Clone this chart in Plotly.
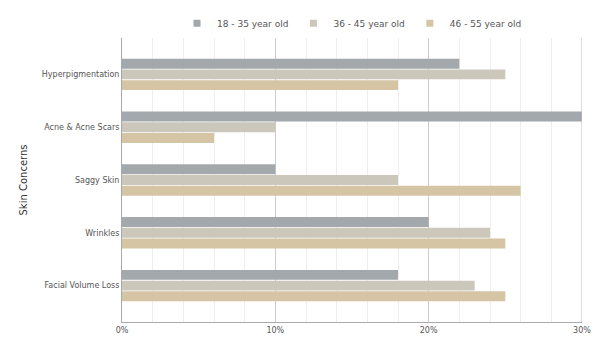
import plotly.graph_objects as go

categories = ["Hyperpigmentation", "Acne & Acne Scars", "Saggy Skin", "Wrinkles", "Facial Volume Loss"]
series_names = ["18 - 35 year old", "36 - 45 year old", "46 - 55 year old"]
age_18_35 = [22, 30, 10, 20, 18]
age_36_45 = [25, 10, 18, 24, 23]
age_46_55 = [18, 6, 26, 25, 25]
colors = ["#a2a8ab", "#cbc8bb", "#d6c5a4"]

fig = go.Figure()
for name, vals, c in zip(series_names, [age_18_35, age_36_45, age_46_55], colors):
    fig.add_trace(go.Bar(y=categories, x=vals, name=name, orientation="h", showlegend=False,
                         marker=dict(color=c, line=dict(width=0))))
for name, c in zip(series_names, colors):
    fig.add_trace(go.Scatter(x=[None], y=[None], mode="markers", name=name,
                             marker=dict(symbol="square", size=7, color=c)))

fig.update_layout(
    width=600, height=351,
    margin=dict(l=122, r=18, t=38, b=29, autoexpand=False),
    paper_bgcolor="white", plot_bgcolor="white",
    barmode="group", bargap=0.39, bargroupgap=0.08,
    font=dict(family="DejaVu Sans", size=9, color="#555"),
    legend=dict(orientation="h", x=0.5, xanchor="center", y=0.975, yref="container", yanchor="top",
                font=dict(size=9, color="#555"), itemwidth=30, traceorder="normal",
                bgcolor="rgba(0,0,0,0)"),
    xaxis=dict(range=[0, 30], dtick=10, ticksuffix="%", showgrid=True, gridcolor="#cccccc", gridwidth=1,
               minor=dict(dtick=2, showgrid=True, gridcolor="#eeeeee"), automargin=False,
               showline=True, linecolor="#aaaaaa", mirror=False, zeroline=False,
               tickfont=dict(size=8, color="#555")),
    yaxis=dict(autorange=False, range=[4.69, -0.69], showline=True, linecolor="#aaaaaa",
               showgrid=False, zeroline=False, ticks="", ticklen=0, automargin=False,
               title=dict(text="Skin Concerns", font=dict(size=10, color="#333"), standoff=12),
               tickfont=dict(size=8, color="#555")),
)
fig.add_shape(type="line", xref="x", yref="paper", x0=30, x1=30, y0=0, y1=1,
              line=dict(color="#bbbbbb", width=1))
fig.write_html("out.html")
